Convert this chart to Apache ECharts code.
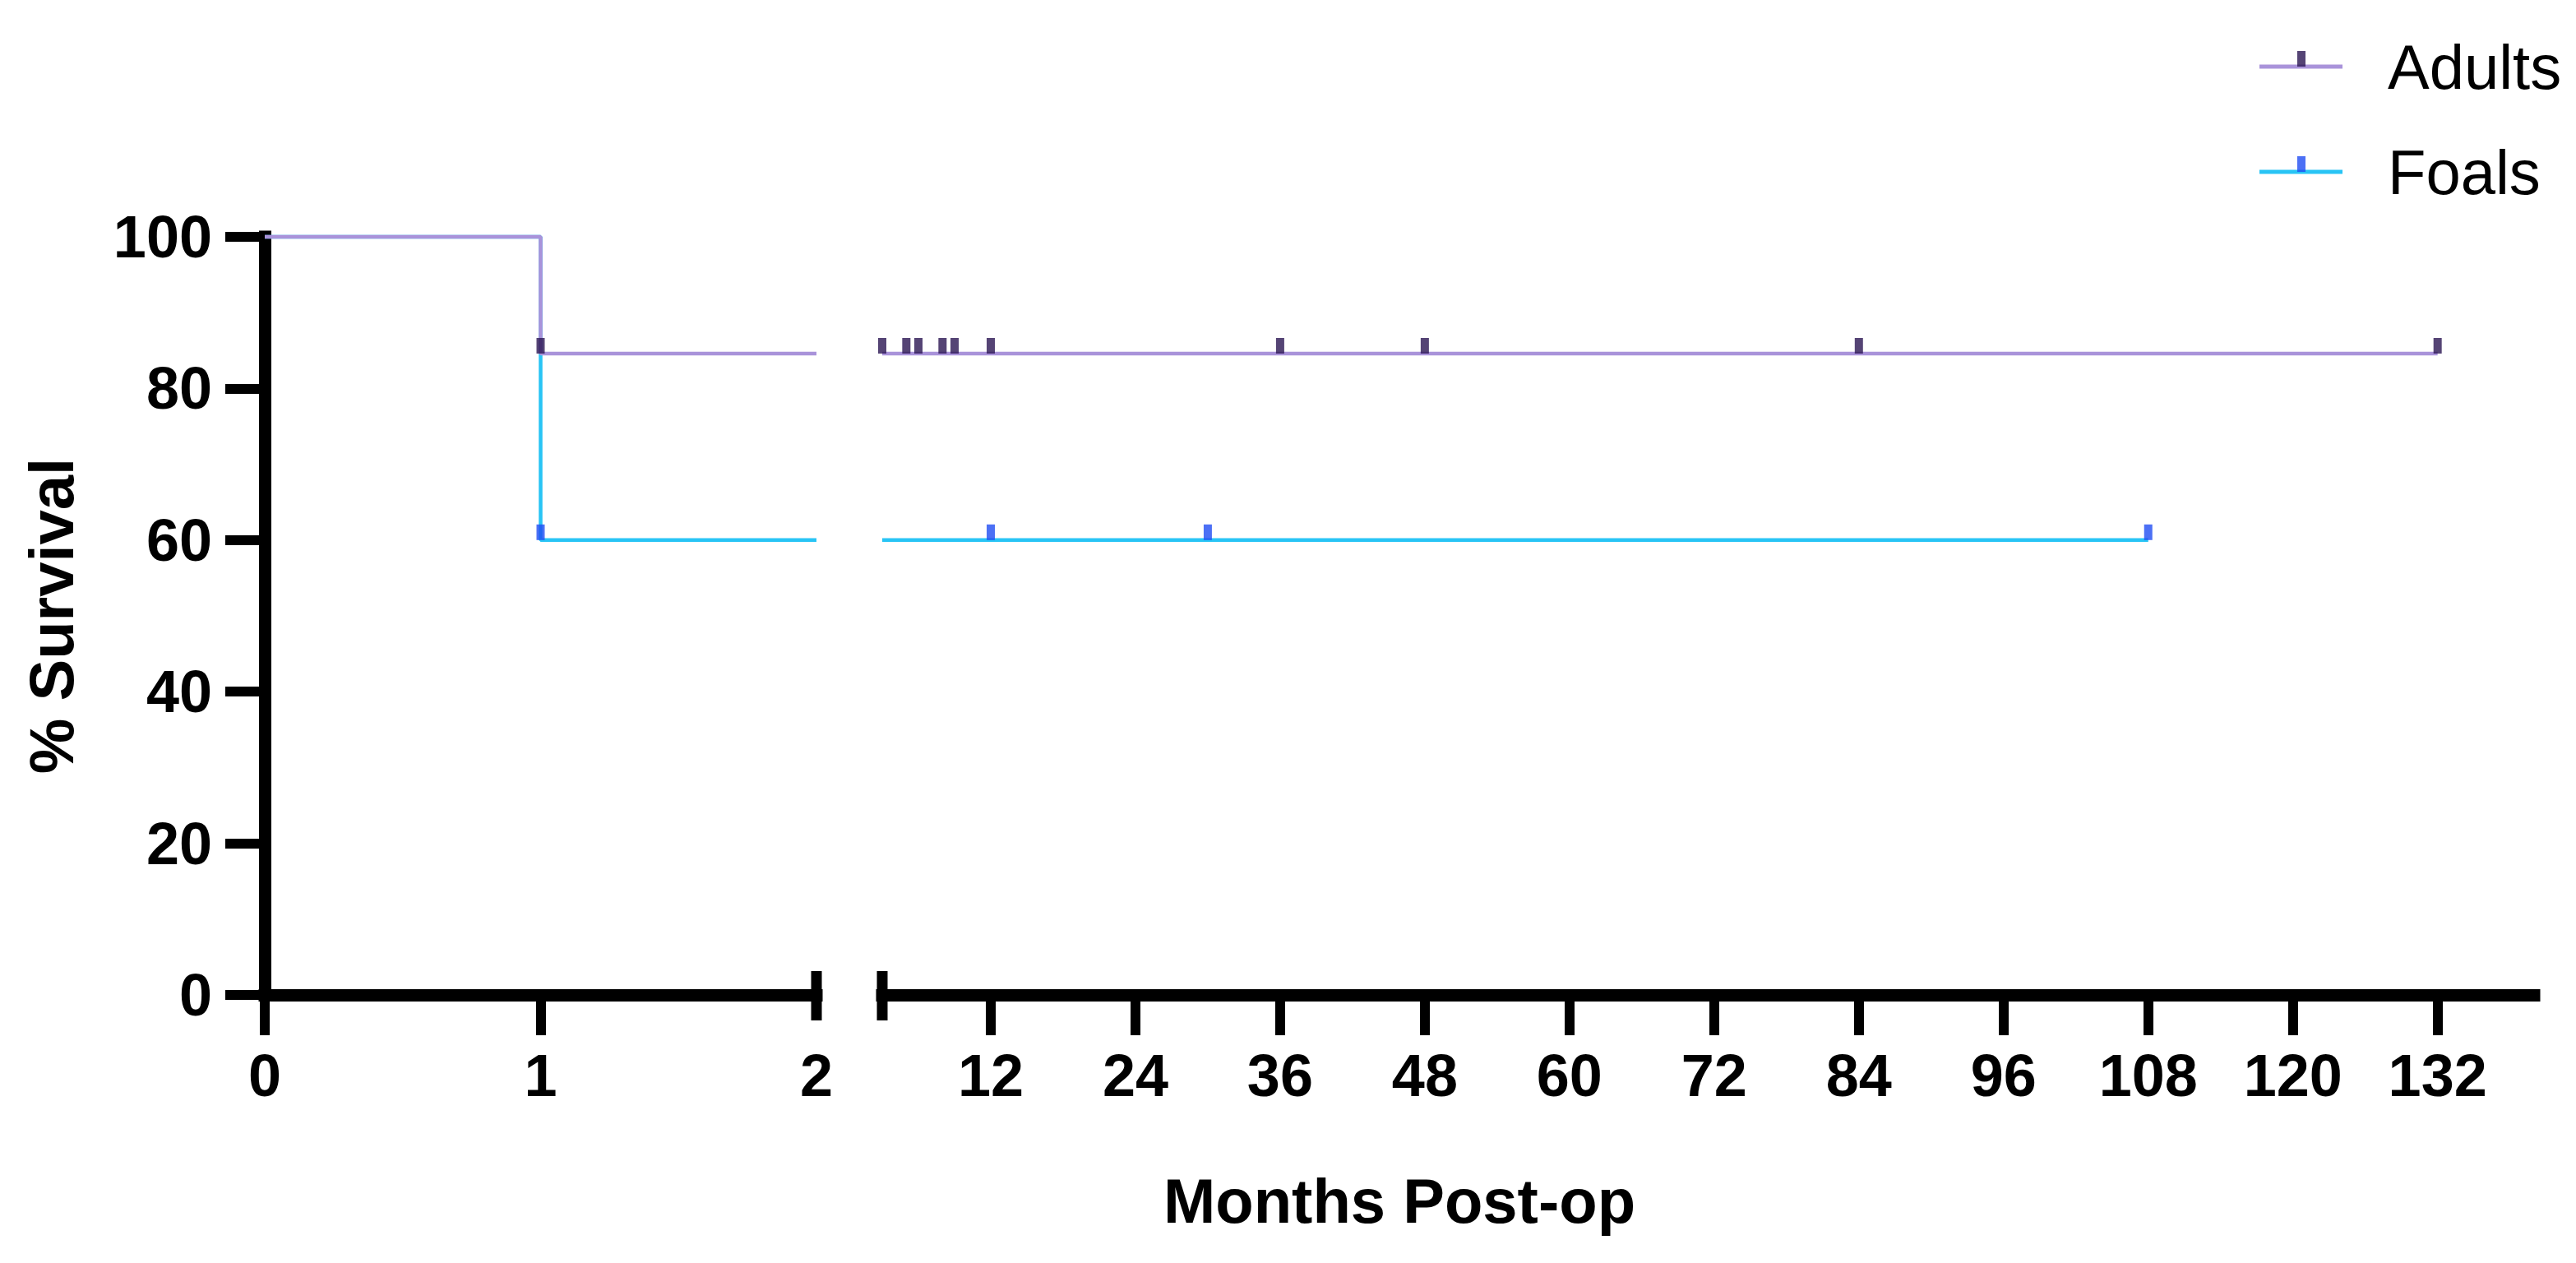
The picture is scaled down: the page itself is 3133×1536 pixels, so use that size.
<!DOCTYPE html>
<html>
<head>
<meta charset="utf-8">
<title>Survival</title>
<script src="https://cdn.jsdelivr.net/npm/echarts@6/dist/echarts.min.js"></script>
<style>
html, body { margin: 0; padding: 0; background: #fff; }
#chart { width: 3133px; height: 1536px; }
</style>
</head>
<body>
<div id="chart"></div>
<script>
// survival steps: months, % survival
const adultTimes = [0, 1];
const adultSurvival = [100, 84.6];
const adultLastMonth = 132;
const adultCensored = [1, 3, 5, 6, 8, 9, 12, 36, 48, 84, 132];

const foalTimes = [0, 1];
const foalSurvival = [100, 60];
const foalLastMonth = 108;
const foalCensored = [1, 12, 30, 108];

// broken x axis, two pieces
const earlyRange = [0, 2];
const lateRange = [3, 140];
const earlyTicks = [0, 1];
const earlyLabels = [0, 1, 2];
const lateTicks = [12, 24, 36, 48, 60, 72, 84, 96, 108, 120, 132];

const FONT = "'Liberation Sans', Arial, Helvetica, sans-serif";
const adultLine = '#a993da';
const adultMark = '#2b1553';
const foalLine = '#28c4f5';
const foalMark = '#1f4cf2';

function survivalAt(times, surv, t) {
  let v = surv[0];
  for (let i = 0; i < times.length; i++) {
    if (times[i] <= t) v = surv[i];
  }
  return v;
}

function stepLine(times, surv, from, to) {
  const pts = [[from, survivalAt(times, surv, from)]];
  for (let i = 1; i < times.length; i++) {
    if (times[i] > from && times[i] <= to) {
      pts.push([times[i], surv[i - 1]]);
      pts.push([times[i], surv[i]]);
    }
  }
  pts.push([to, survivalAt(times, surv, to)]);
  return pts;
}

function censorPoints(list, times, surv, from, to) {
  return list.filter(t => t >= from && t <= to).map(t => [t, survivalAt(times, surv, t)]);
}

function lineSeries(name, idx, color, data) {
  return {
    name: name, type: 'line', xAxisIndex: idx, yAxisIndex: idx,
    data: data, color: color, showSymbol: false, symbol: 'none', clip: false,
    lineStyle: { color: color, width: 4.5 }, itemStyle: { color: color },
    silent: true, z: 2
  };
}

function censorSeries(name, idx, color, data) {
  return {
    name: name, type: 'scatter', xAxisIndex: idx, yAxisIndex: idx,
    data: data, color: color, symbol: 'rect', symbolSize: [10, 19],
    symbolOffset: [0, '-50%'], itemStyle: { color: color }, clip: false,
    silent: true, z: 3
  };
}

const axisBlack = { color: '#000', width: 15, cap: 'square' };
const tickLabel = { fontSize: 72, fontWeight: 'bold', color: '#000', fontFamily: FONT };

const chart = echarts.init(document.getElementById('chart'), null, { renderer: 'svg' });

chart.setOption({
  animation: false,
  backgroundColor: '#fff',
  grid: [
    { left: 322, width: 671, top: 288, bottom: 326 },
    { left: 1073, right: 51, top: 288, bottom: 326 },
    { left: 322, right: 51, top: 288, bottom: 326 }
  ],
  legend: [
    {
      data: ['Adults', 'Foals'], orient: 'vertical', left: 2743, top: 36,
      icon: 'rect', itemWidth: 101, itemHeight: 5, itemGap: 48, selectedMode: false,
      textStyle: { fontSize: 76, color: '#000', fontFamily: FONT, lineHeight: 80, padding: [0, 0, 0, 50] }
    },
    {
      data: ['Adults censored', 'Foals censored'], orient: 'vertical', left: 2789, top: 57,
      icon: 'rect', itemWidth: 10, itemHeight: 19, itemGap: 109, selectedMode: false,
      formatter: () => '',
      textStyle: { fontSize: 12, lineHeight: 19 }
    }
  ],
  xAxis: [
    {
      gridIndex: 0, type: 'value', min: earlyRange[0], max: earlyRange[1],
      axisLine: { onZero: false, lineStyle: axisBlack },
      axisTick: { customValues: earlyTicks, length: 49, lineStyle: { color: '#000', width: 12 } },
      axisLabel: Object.assign({ customValues: earlyLabels, margin: 62 }, tickLabel),
      splitLine: { show: false }
    },
    {
      gridIndex: 1, type: 'value', min: lateRange[0], max: lateRange[1],
      axisLine: { onZero: false, lineStyle: axisBlack },
      axisTick: { customValues: lateTicks, length: 49, lineStyle: { color: '#000', width: 12 } },
      axisLabel: Object.assign({ customValues: lateTicks, margin: 62 }, tickLabel),
      splitLine: { show: false }
    },
    {
      // only carries the axis title, centred under both pieces
      gridIndex: 2, type: 'value', min: 0, max: 1,
      axisLine: { show: false }, axisTick: { show: false }, axisLabel: { show: false },
      splitLine: { show: false },
      name: 'Months Post-op', nameLocation: 'middle', nameGap: 212,
      nameTextStyle: { fontSize: 76, fontWeight: 'bold', color: '#000', fontFamily: FONT }
    }
  ],
  yAxis: [
    {
      gridIndex: 0, type: 'value', min: 0, max: 100, interval: 20,
      axisLine: { show: true, onZero: false, lineStyle: axisBlack },
      axisTick: { show: true, length: 48, lineStyle: { color: '#000', width: 12 } },
      axisLabel: Object.assign({ margin: 64 }, tickLabel),
      splitLine: { show: false },
      name: '% Survival', nameLocation: 'middle', nameGap: 222,
      nameTextStyle: { fontSize: 76, fontWeight: 'bold', color: '#000', fontFamily: FONT }
    },
    { gridIndex: 1, type: 'value', min: 0, max: 100, show: false },
    { gridIndex: 2, type: 'value', min: 0, max: 100, show: false }
  ],
  series: [
    lineSeries('Foals', 0, foalLine, stepLine(foalTimes, foalSurvival, earlyRange[0], earlyRange[1])),
    lineSeries('Adults', 0, adultLine, stepLine(adultTimes, adultSurvival, earlyRange[0], earlyRange[1])),
    lineSeries('Foals', 1, foalLine, stepLine(foalTimes, foalSurvival, lateRange[0], foalLastMonth)),
    lineSeries('Adults', 1, adultLine, stepLine(adultTimes, adultSurvival, lateRange[0], adultLastMonth)),
    censorSeries('Adults censored', 0, adultMark, censorPoints(adultCensored, adultTimes, adultSurvival, earlyRange[0], earlyRange[1])),
    censorSeries('Foals censored', 0, foalMark, censorPoints(foalCensored, foalTimes, foalSurvival, earlyRange[0], earlyRange[1])),
    censorSeries('Adults censored', 1, adultMark, censorPoints(adultCensored, adultTimes, adultSurvival, lateRange[0], lateRange[1])),
    censorSeries('Foals censored', 1, foalMark, censorPoints(foalCensored, foalTimes, foalSurvival, lateRange[0], lateRange[1]))
  ]
});

// break marks at the two cut ends of the x axis
const axisY = chart.convertToPixel({ yAxisIndex: 0 }, 0);
const cutA = chart.convertToPixel({ xAxisIndex: 0 }, earlyRange[1]);
const cutB = chart.convertToPixel({ xAxisIndex: 1 }, lateRange[0]);
chart.setOption({
  graphic: [cutA, cutB].map(x => ({
    type: 'line', silent: true, z: 10,
    shape: { x1: x, y1: axisY - 29, x2: x, y2: axisY + 31 },
    style: { stroke: '#000', lineWidth: 13 }
  }))
});
</script>
</body>
</html>
